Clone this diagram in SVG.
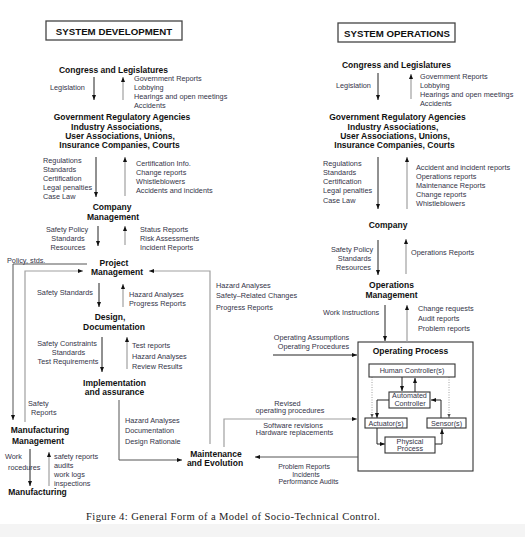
<svg xmlns="http://www.w3.org/2000/svg" width="525" height="537" viewBox="0 0 525 537">
<defs>
<marker id="ah" viewBox="0 0 6 6" refX="6" refY="3" markerWidth="5" markerHeight="5" orient="auto" markerUnits="userSpaceOnUse"><path d="M0,0.6 L6,3 L0,5.4 z" fill="#111"/></marker>
<marker id="ahs" viewBox="0 0 6 6" refX="6" refY="3" markerWidth="4" markerHeight="4" orient="auto" markerUnits="userSpaceOnUse"><path d="M0,0.6 L6,3 L0,5.4 z" fill="#555"/></marker>
</defs>
<style>
.n{font-family:"Liberation Sans",Arial,sans-serif;font-weight:bold;font-size:8.5px;fill:#111;text-anchor:middle}
.l{font-family:"Liberation Sans",Arial,sans-serif;font-size:7.3px;fill:#343448}
.s{font-size:6.9px}
.c{text-anchor:middle}
.b{font-family:"Liberation Sans",Arial,sans-serif;font-size:7.2px;fill:#343448;text-anchor:middle}
.t{font-family:"Liberation Sans",Arial,sans-serif;font-weight:bold;font-size:9.7px;fill:#111;text-anchor:middle}
.hd{fill:#fff;stroke:#444;stroke-width:1.3}
.bx{fill:#fff;stroke:#333;stroke-width:1.1}
.op{fill:none;stroke:#333;stroke-width:1.1}
.d{fill:none;stroke:#222;stroke-width:1;marker-end:url(#ah)}
.g{fill:none;stroke:#a0a0a0;stroke-width:1.2;marker-end:url(#ah)}
.m{fill:none;stroke:#555;stroke-width:1;marker-end:url(#ah)}
.dt{fill:none;stroke:#888;stroke-width:0.8;stroke-dasharray:1 1.5;marker-end:url(#ahs)}
</style>
<rect width="525" height="537" fill="#fff"/>
<rect y="524" width="525" height="13" fill="#f4f4f4"/>

<g id="operating-process">
<rect class="op" x="358" y="342" width="115" height="129"/>
<text class="n" x="410.5" y="353.5">Operating Process</text>
</g>

<g id="connectors">
<path class="d" d="M94,77 V100"/>
<path class="g" d="M123,100 V77"/>
<path class="d" d="M96,157 V197"/>
<path class="g" d="M125,196 V157"/>
<path class="d" d="M98,226 V246"/>
<path class="g" d="M125,245 V226"/>
<path class="m" d="M87,264 H13 V420"/>
<path class="g" d="M25,422 V271 H83"/>
<path class="g" d="M210,444 V271 H149"/>
<path class="d" d="M99,283 V307"/>
<path class="g" d="M123,307 V284"/>
<path class="d" d="M102,337 V372"/>
<path class="g" d="M127,369 V337"/>
<path class="m" d="M119,400 V460 H182"/>
<path class="d" d="M30,449 V486"/>
<path class="g" d="M49,486 V452"/>
<path class="g" d="M224,447 V419 H357"/>
<path class="m" d="M358,457 H255"/>
<path class="d" d="M273,355 H357"/>
<path class="d" d="M378,73 V100"/>
<path class="g" d="M411,99 V74"/>
<path class="d" d="M378,157 V209"/>
<path class="g" d="M407,209 V157"/>
<path class="d" d="M378,240 V275"/>
<path class="g" d="M406,274 V239"/>
<path class="d" d="M385,305 V341"/>
<path class="g" d="M407,342 V305"/>
<path class="d" d="M402,377 V391"/>
<path class="d" d="M415,392 V378"/>
<path class="d" d="M389,400 H377 V418"/>
<path class="d" d="M441,418 V400 H431"/>
<path class="d" d="M377,428 V444 H385"/>
<path class="d" d="M435,444 H442 V429"/>
<path class="dt" d="M372,377 V418"/>
<path class="dt" d="M449,377 V418"/>
</g>

<g id="hdr-dev"><rect class="hd" x="46" y="21" width="136" height="19"/><text class="t" x="114" y="34.5">SYSTEM DEVELOPMENT</text></g>
<g id="hdr-ops"><rect class="hd" x="338" y="23" width="117" height="19"/><text class="t" x="397" y="36.5">SYSTEM OPERATIONS</text></g>

<g id="dev-congress"><text class="n" x="113.5" y="72.5">Congress and Legislatures</text></g>
<g id="dev-congress-labels">
<text class="l" x="50" y="90">Legislation</text>
<text class="l" x="134" y="80.5">Government Reports</text>
<text class="l" x="134" y="89.5">Lobbying</text>
<text class="l" x="134" y="98.5">Hearings and open meetings</text>
<text class="l" x="134" y="107.5">Accidents</text>
</g>
<g id="dev-agencies">
<text class="n" x="122" y="120.3">Government Regulatory Agencies</text>
<text class="n" x="116.5" y="130.3">Industry Associations,</text>
<text class="n" x="120" y="139.3">User Associations, Unions,</text>
<text class="n" x="119.5" y="148.3">Insurance Companies, Courts</text>
</g>
<g id="dev-agencies-labels">
<text class="l" x="43" y="162.5">Regulations</text>
<text class="l" x="43" y="171.5">Standards</text>
<text class="l" x="43" y="180.5">Certification</text>
<text class="l" x="43" y="189.5">Legal penalties</text>
<text class="l" x="43" y="198.5">Case Law</text>
<text class="l" x="136" y="166">Certification Info.</text>
<text class="l" x="136" y="175.1">Change reports</text>
<text class="l" x="136" y="184.2">Whistleblowers</text>
<text class="l" x="136" y="193.3">Accidents and incidents</text>
</g>
<g id="dev-company">
<text class="n" x="112" y="210">Company</text>
<text class="n" x="113" y="219.5">Management</text>
</g>
<g id="dev-company-labels">
<text class="l c" x="67" y="231.5">Safety Policy</text>
<text class="l c" x="68" y="240.8">Standards</text>
<text class="l c" x="68" y="249.8">Resources</text>
<text class="l" x="140" y="231.5">Status Reports</text>
<text class="l" x="140" y="240.8">Risk Assessments</text>
<text class="l" x="140" y="249.8">Incident Reports</text>
<text class="l" x="7" y="262.5">Policy, stds.</text>
</g>
<g id="dev-project">
<text class="n" x="114" y="266.3">Project</text>
<text class="n" x="117" y="275.3">Management</text>
</g>
<g id="dev-project-labels">
<text class="l" x="37" y="295">Safety Standards</text>
<text class="l" x="129" y="297">Hazard Analyses</text>
<text class="l" x="129" y="306">Progress Reports</text>
<text class="l" x="216" y="287.5">Hazard Analyses</text>
<text class="l" x="216" y="298.2">Safety–Related Changes</text>
<text class="l" x="216" y="309.5">Progress Reports</text>
</g>
<g id="dev-design">
<text class="n" x="110" y="320.3">Design,</text>
<text class="n" x="114" y="329.5">Documentation</text>
</g>
<g id="dev-design-labels">
<text class="l c" x="67" y="346">Safety Constraints</text>
<text class="l c" x="68.5" y="355">Standards</text>
<text class="l c" x="68" y="364">Test Requirements</text>
<text class="l" x="132" y="348">Test reports</text>
<text class="l" x="132" y="358.5">Hazard Analyses</text>
<text class="l" x="132" y="369.2">Review Results</text>
</g>
<g id="dev-impl">
<text class="n" x="114.5" y="385.5">Implementation</text>
<text class="n" x="114.5" y="395">and assurance</text>
</g>
<g id="dev-impl-labels">
<text class="l" x="28" y="406">Safety</text>
<text class="l" x="31" y="415">Reports</text>
<text class="l" x="125" y="422.5">Hazard Analyses</text>
<text class="l" x="125" y="433.2">Documentation</text>
<text class="l" x="125" y="443.8">Design Rationale</text>
</g>
<g id="dev-mfg-mgmt">
<text class="n" x="40" y="433">Manufacturing</text>
<text class="n" x="38" y="443.5">Management</text>
</g>
<g id="dev-mfg-labels">
<text class="l" x="5" y="459">Work</text>
<text class="l" x="8" y="469.5">rocedures</text>
<text class="l" x="54" y="458.5">safety reports</text>
<text class="l" x="54" y="467.5">audits</text>
<text class="l" x="54" y="476.5">work logs</text>
<text class="l" x="54" y="485.5">inspections</text>
</g>
<g id="dev-mfg"><text class="n" x="37.5" y="495">Manufacturing</text></g>
<g id="maintenance">
<text class="n" x="216" y="457">Maintenance</text>
<text class="n" x="215" y="466">and Evolution</text>
</g>
<g id="maintenance-labels">
<text class="l c s" x="304" y="469.3">Problem Reports</text>
<text class="l c s" x="306" y="476.6">Incidents</text>
<text class="l c s" x="308.5" y="484">Performance Audits</text>
<text class="l c" x="287.5" y="405.5">Revised</text>
<text class="l c" x="290" y="413">operating procedures</text>
<text class="l c" x="293" y="427.5">Software revisions</text>
<text class="l c" x="294.5" y="435">Hardware replacements</text>
<text class="l c" x="311.5" y="339.5">Operating Assumptions</text>
<text class="l c" x="313.5" y="349">Operating Procedures</text>
</g>

<g id="ops-congress"><text class="n" x="396.5" y="68">Congress and Legislatures</text></g>
<g id="ops-congress-labels">
<text class="l" x="336" y="88">Legislation</text>
<text class="l" x="420" y="79">Government Reports</text>
<text class="l" x="420" y="88">Lobbying</text>
<text class="l" x="420" y="97">Hearings and open meetings</text>
<text class="l" x="420" y="106">Accidents</text>
</g>
<g id="ops-agencies">
<text class="n" x="397.5" y="120.3">Government Regulatory Agencies</text>
<text class="n" x="393" y="130.3">Industry Associations,</text>
<text class="n" x="395" y="139.3">User Associations, Unions,</text>
<text class="n" x="394.5" y="148.3">Insurance Companies, Courts</text>
</g>
<g id="ops-agencies-labels">
<text class="l" x="323" y="166">Regulations</text>
<text class="l" x="323" y="175">Standards</text>
<text class="l" x="323" y="184">Certification</text>
<text class="l" x="323" y="193.3">Legal penalties</text>
<text class="l" x="323" y="202.5">Case Law</text>
<text class="l" x="416" y="170">Accident and incident reports</text>
<text class="l" x="416" y="179">Operations reports</text>
<text class="l" x="416" y="188">Maintenance Reports</text>
<text class="l" x="416" y="197">Change reports</text>
<text class="l" x="416" y="206">Whistleblowers</text>
</g>
<g id="ops-company"><text class="n" x="388" y="228">Company</text></g>
<g id="ops-company-labels">
<text class="l c" x="352" y="252">Safety Policy</text>
<text class="l c" x="354.5" y="261">Standards</text>
<text class="l c" x="353.5" y="270">Resources</text>
<text class="l" x="411" y="255">Operations Reports</text>
</g>
<g id="ops-mgmt">
<text class="n" x="391.5" y="288">Operations</text>
<text class="n" x="391.5" y="297.5">Management</text>
</g>
<g id="ops-mgmt-labels">
<text class="l" x="323" y="315">Work Instructions</text>
<text class="l" x="418" y="311.2">Change requests</text>
<text class="l" x="418" y="320.8">Audit reports</text>
<text class="l" x="418" y="331.3">Problem reports</text>
</g>
<g id="human-controller"><rect class="bx" x="369" y="364" width="86" height="13"/><text class="b" x="412" y="373">Human Controller(s)</text></g>
<g id="automated-controller"><rect class="bx" x="389" y="392" width="41" height="16"/><text class="b s" x="409.5" y="398.3">Automated</text><text class="b s" x="410" y="405.9">Controller</text></g>
<g id="actuators"><rect class="bx" x="365" y="418" width="42" height="10"/><text class="b" x="386" y="425.8">Actuator(s)</text></g>
<g id="sensors"><rect class="bx" x="427" y="418" width="39" height="10"/><text class="b" x="446.5" y="425.8">Sensor(s)</text></g>
<g id="physical-process"><rect class="bx" x="385" y="437" width="50" height="16"/><text class="b s" x="410" y="443.5">Physical</text><text class="b s" x="410" y="451.2">Process</text></g>

<text x="86" y="520" font-family="Liberation Serif, serif" font-size="10.6" fill="#222" textLength="294" lengthAdjust="spacing">Figure 4: General Form of a Model of Socio-Technical Control.</text>
</svg>
